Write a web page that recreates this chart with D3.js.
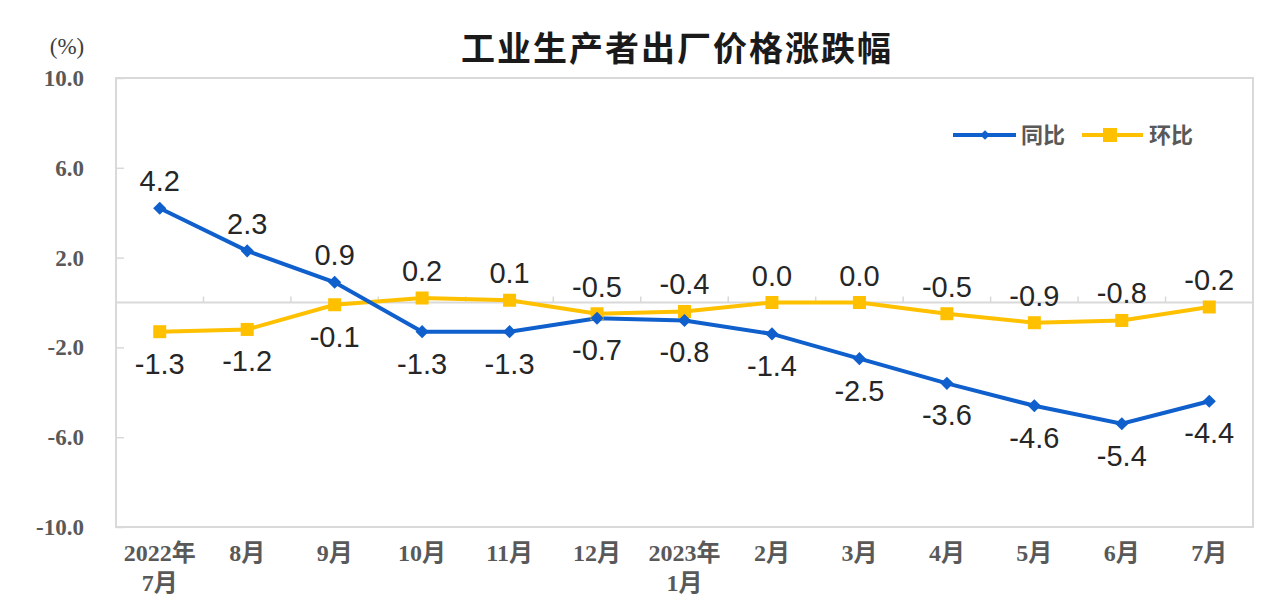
<!DOCTYPE html>
<html><head><meta charset="utf-8">
<script src="https://cdn.jsdelivr.net/npm/d3@7"></script>
<style>body{margin:0;background:#fff;} svg{display:block;}</style>
</head><body>
<svg id="c" width="1278" height="616"></svg>
<script>
const categories = ["2022年\n7月","8月","9月","10月","11月","12月","2023年\n1月","2月","3月","4月","5月","6月","7月"];
const yoy = [4.2, 2.3, 0.9, -1.3, -1.3, -0.7, -0.8, -1.4, -2.5, -3.6, -4.6, -5.4, -4.4];
const mom = [-1.3, -1.2, -0.1, 0.2, 0.1, -0.5, -0.4, 0.0, 0.0, -0.5, -0.9, -0.8, -0.2];
const yTicks = [10, 6, 2, -2, -6, -10];
const yoyLabelAbove = [true,true,true,false,false,false,false,false,false,false,false,false,false];

const svg = d3.select("#c");
const L=116, R=1253, T=78, B=527;
const x = d3.scaleBand().domain(categories).range([L,R]).padding(0);
const y = d3.scaleLinear().domain([-10,10]).range([B,T]);
const cx = d => x(d)+x.bandwidth()/2;

svg.append("rect").attr("x",L).attr("y",T).attr("width",R-L).attr("height",B-T)
  .attr("fill","none").attr("stroke","#d9d9d9").attr("stroke-width",2);

// y ticks
const yAxis = d3.axisRight(y).tickValues(yTicks).tickSize(8).tickFormat("");
const ga = svg.append("g").attr("transform",`translate(${L},0)`).call(yAxis);
ga.select(".domain").remove();
ga.selectAll("line").attr("stroke","#d9d9d9").attr("stroke-width",1.5);
svg.selectAll(".ylab").data(yTicks).enter().append("text")
  .attr("x",84).attr("y",d=>y(d)+8).attr("text-anchor","end")
  .attr("font-family","Liberation Serif").attr("font-weight","bold").attr("font-size",23)
  .attr("fill","#595959").text(d=>d.toFixed(1));

// zero line with category ticks
svg.append("line").attr("x1",L).attr("x2",R).attr("y1",y(0)).attr("y2",y(0))
  .attr("stroke","#d9d9d9").attr("stroke-width",2);
svg.selectAll(".zt").data(categories.slice(1)).enter().append("line")
  .attr("x1",d=>x(d)).attr("x2",d=>x(d)).attr("y1",y(0)).attr("y2",y(0)-6)
  .attr("stroke","#d9d9d9").attr("stroke-width",1.5);

// x labels
categories.forEach(c=>{
  const lines=c.split("\n");
  const t=svg.append("text").attr("x",cx(c)).attr("y",561).attr("text-anchor","middle")
    .attr("font-family","Liberation Serif, Noto Sans CJK SC").attr("font-weight","bold").attr("font-size",24)
    .attr("fill","#595959");
  lines.forEach((s,i)=>t.append("tspan").attr("x",cx(c)).attr("dy",i?30:0).text(s));
});

const line = d3.line().x((d,i)=>cx(categories[i])).y(d=>y(d));
svg.append("path").datum(mom).attr("d",line).attr("fill","none").attr("stroke","#FFC000").attr("stroke-width",4);
svg.append("path").datum(yoy).attr("d",line).attr("fill","none").attr("stroke","#0F5FCC").attr("stroke-width",4);

svg.selectAll(".sq").data(mom).enter().append("rect")
  .attr("x",(d,i)=>cx(categories[i])-6.5).attr("y",d=>y(d)-6.5).attr("width",13).attr("height",13).attr("fill","#FFC000");
const diamond = d3.symbol().type(d3.symbolDiamond2).size(110);
svg.selectAll(".dm").data(yoy).enter().append("path")
  .attr("d",diamond).attr("transform",(d,i)=>`translate(${cx(categories[i])},${y(d)})`).attr("fill","#0F5FCC");

const lblStyle = s => s.attr("font-family","Liberation Sans, Arial").attr("font-size",29)
  .attr("fill","#262626").attr("text-anchor","middle");
svg.selectAll(".ly").data(yoy).enter().append("text").call(lblStyle)
  .attr("x",(d,i)=>cx(categories[i])).attr("y",(d,i)=>yoyLabelAbove[i]? y(d)-17 : y(d)+42)
  .text(d=>d.toFixed(1));
svg.selectAll(".lm").data(mom).enter().append("text").call(lblStyle)
  .attr("x",(d,i)=>cx(categories[i])).attr("y",(d,i)=>yoyLabelAbove[i]? y(d)+42 : y(d)-17)
  .text(d=>d.toFixed(1));

// legend
const lg = svg.append("g");
lg.append("line").attr("x1",953).attr("x2",1016).attr("y1",135).attr("y2",135).attr("stroke","#0F5FCC").attr("stroke-width",4);
lg.append("path").attr("d",d3.symbol().type(d3.symbolDiamond2).size(60)).attr("transform","translate(985,135)").attr("fill","#0F5FCC");
lg.append("text").attr("x",1021).attr("y",143).attr("font-family","Noto Sans CJK SC").attr("font-size",22).attr("fill","#595959").attr("font-weight","bold").text("同比");
lg.append("line").attr("x1",1082).attr("x2",1143).attr("y1",135).attr("y2",135).attr("stroke","#FFC000").attr("stroke-width",4);
lg.append("rect").attr("x",1103).attr("y",128).attr("width",14).attr("height",14).attr("fill","#FFC000");
lg.append("text").attr("x",1149).attr("y",143).attr("font-family","Noto Sans CJK SC").attr("font-size",22).attr("fill","#595959").attr("font-weight","bold").text("环比");

// title
svg.append("text").attr("x",677).attr("y",61).attr("text-anchor","middle")
  .attr("font-family","Noto Sans CJK SC").attr("font-weight","bold").attr("font-size",34)
  .attr("letter-spacing",2).attr("fill","#1a1a1a").text("工业生产者出厂价格涨跌幅");
svg.append("text").attr("x",67).attr("y",54).attr("text-anchor","middle")
  .attr("font-family","Liberation Serif").attr("font-size",23).attr("fill","#404040").text("(%)");
</script>
</body></html>
